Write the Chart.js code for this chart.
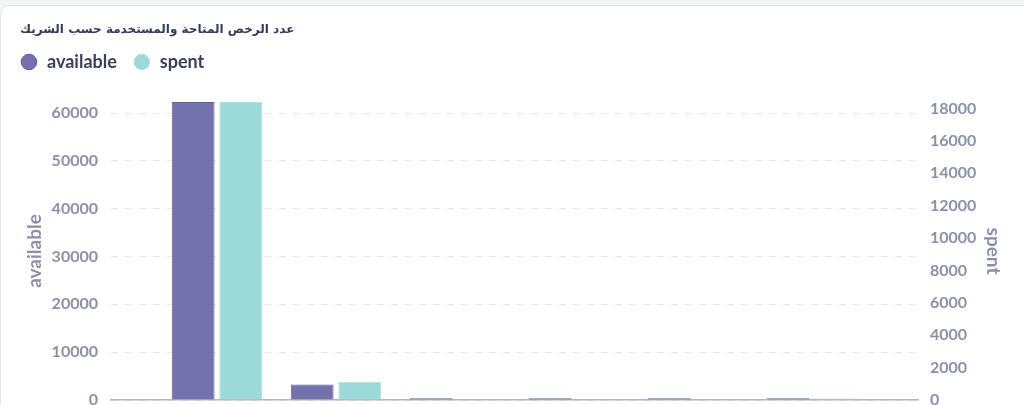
<!DOCTYPE html>
<html>
<head>
<meta charset="utf-8">
<script src="https://cdn.jsdelivr.net/npm/chart.js@4.4.1/dist/chart.umd.min.js"></script>
<style>
    html, body { margin: 0; padding: 0; background: #f3f4f7; overflow: hidden; }
    .card {
        position: absolute; left: 0; top: 5px; width: 1040px; height: 520px;
        background: #fff; border: 1px solid #e4e6ec; border-radius: 10px;
    }
    .chart-box { position: absolute; left: 0; top: 0; width: 1024px; height: 460px; }
</style>
</head>
<body>
<div class="card"></div>
<div class="chart-box"><canvas id="licensesChart"></canvas></div>
<script>
// Dados do gráfico
const partners = ['شريك 1', 'شريك 2', 'شريك 3', 'شريك 4', 'شريك 5', 'شريك 6'];
const available = [62300, 3250, 350, 350, 350, 350];
const spent = [18400, 1130, 0, 0, 0, 90];
const availableTicks = [0, 10000, 20000, 30000, 40000, 50000, 60000];
const spentTicks = [0, 2000, 4000, 6000, 8000, 10000, 12000, 14000, 16000, 18000];
const chartTitle = 'عدد الرخص المتاحة والمستخدمة حسب الشريك';

const axisColor = '#8a90a7';
const tickFont = { family: 'Lato', size: 16, weight: 'bold' };
const axisTitleFont = { family: 'Lato', size: 19, weight: 'bold' };
const legendPadding = 16;

// Espaço abaixo da legenda e alinhamento à esquerda dos itens
const legendTweaks = {
    id: 'legendTweaks',
    beforeInit(chart) {
        const originalFit = chart.legend.fit;
        chart.legend.fit = function fit() {
            originalFit.bind(chart.legend)();
            this.height += 21;
        };
    },
    afterLayout(chart) {
        chart.legend.left -= legendPadding;
    }
};

document.addEventListener('DOMContentLoaded', () => {
    const ctx = document.getElementById('licensesChart').getContext('2d');

    new Chart(ctx, {
        type: 'bar',
        data: {
            labels: partners,
            datasets: [
                {
                    label: 'available',
                    data: available,
                    yAxisID: 'yAvailable',
                    backgroundColor: '#7372ae',
                    borderColor: '#5f5d9f',
                    borderWidth: 1,
                },
                {
                    label: 'spent',
                    data: spent,
                    yAxisID: 'ySpent',
                    backgroundColor: '#9adbd9',
                    borderColor: '#a9e2e0',
                    borderWidth: 1,
                }
            ]
        },
        plugins: [legendTweaks],
        options: {
            responsive: true,
            maintainAspectRatio: false,
            animation: false,
            layout: { padding: { left: 20, right: 0, top: 10, bottom: 10 } },
            plugins: {
                title: {
                    display: true,
                    text: chartTitle,
                    align: 'start',
                    color: '#343a58',
                    font: { family: 'DejaVu Sans', size: 12, weight: 'bold' },
                    padding: { top: 12.3, bottom: 0.3 }
                },
                legend: {
                    display: true,
                    align: 'start',
                    labels: {
                        usePointStyle: true,
                        pointStyle: 'circle',
                        boxHeight: 11,
                        padding: legendPadding,
                        color: '#3a3f5c',
                        font: { family: 'Lato', size: 18, weight: 'bold' }
                    }
                },
                tooltip: { enabled: false }
            },
            scales: {
                x: {
                    offset: true,
                    grid: { display: false },
                    border: { display: true, color: '#b3b6c0', width: 1.5 },
                    ticks: { color: axisColor, font: tickFont },
                    // espaço extra nas laterais, como no original
                    afterBuildTicks: (scale) => {
                        const pad = 0.39;
                        scale._startValue = -0.5 - pad;
                        scale._valueRange = partners.length + 2 * pad;
                    },
                    afterFit: (scale) => { scale.height = 50; }
                },
                yAvailable: {
                    position: 'left',
                    min: 0,
                    max: Math.max(...available),
                    grid: { color: '#e6e7ec', drawTicks: false },
                    border: { display: false, dash: [7, 7] },
                    ticks: {
                        autoSkip: false,
                        padding: 13,
                        color: axisColor,
                        font: tickFont,
                        callback: (v) => String(v)
                    },
                    afterBuildTicks: (scale) => {
                        scale.ticks = availableTicks.map(v => ({ value: v }));
                    },
                    title: {
                        display: true,
                        text: 'available',
                        color: axisColor,
                        font: axisTitleFont,
                        padding: { top: 3.6, bottom: 0 }
                    },
                    afterFit: (scale) => { scale.width = 91; }
                },
                ySpent: {
                    position: 'right',
                    min: 0,
                    max: Math.max(...spent),
                    grid: { drawOnChartArea: false, drawTicks: false },
                    border: { display: false },
                    ticks: {
                        autoSkip: false,
                        padding: 12,
                        color: axisColor,
                        font: tickFont,
                        callback: (v) => String(v)
                    },
                    afterBuildTicks: (scale) => {
                        scale.ticks = spentTicks.map(v => ({ value: v }));
                    },
                    title: {
                        display: true,
                        text: 'spent',
                        color: axisColor,
                        font: axisTitleFont,
                        padding: { top: 19.6, bottom: 0 }
                    },
                    afterFit: (scale) => { scale.width = 106; }
                }
            }
        }
    });
});
</script>
</body>
</html>
